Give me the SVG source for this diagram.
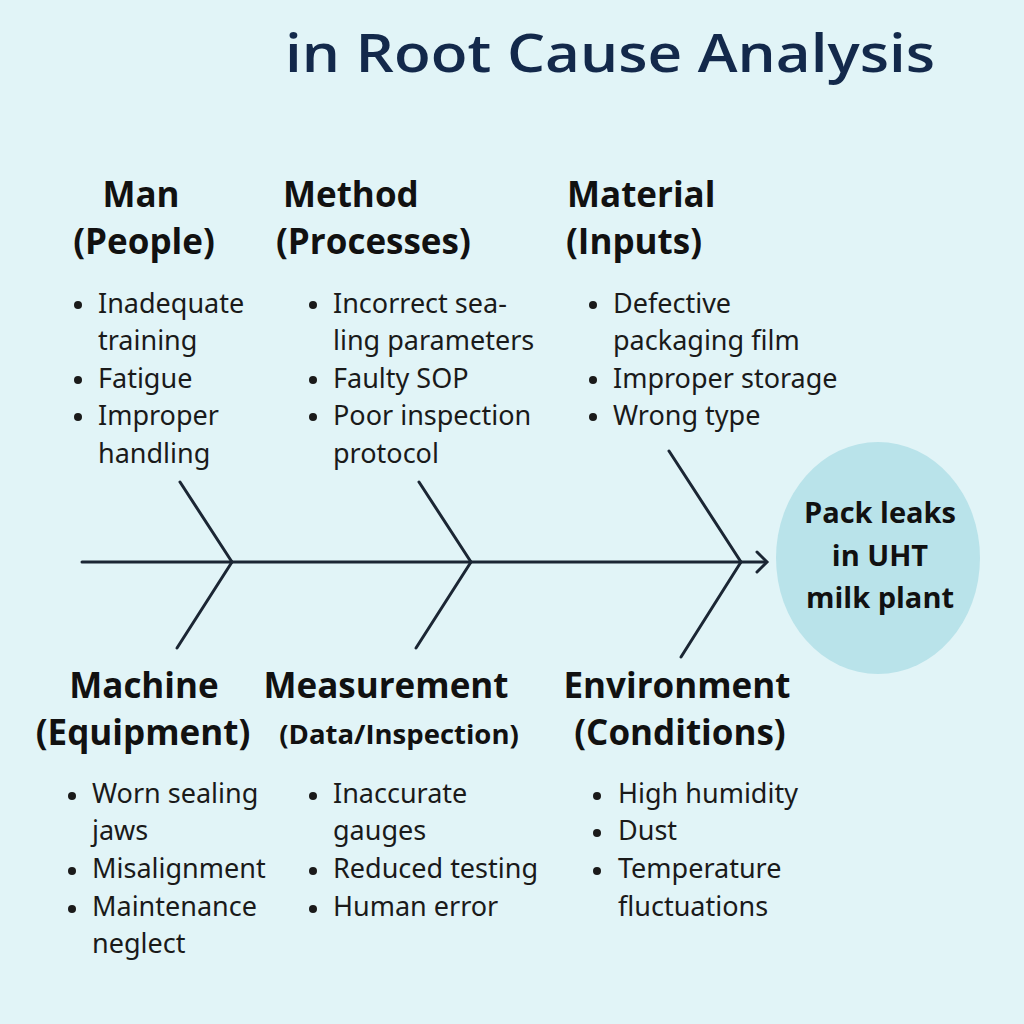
<svg xmlns="http://www.w3.org/2000/svg" width="1024" height="1024" viewBox="0 0 1024 1024">
<style>
.title{font-family:"Open Sans","Liberation Sans",sans-serif;font-weight:600;font-size:52px;fill:#13294b}
.head{font-family:"Open Sans","Liberation Sans",sans-serif;font-weight:700;font-size:35px;fill:#111}
.item{font-family:"Noto Sans","Liberation Sans",sans-serif;font-size:27px;fill:#1a1a1a}
.dot{fill:#1a1a1a}
.bone{stroke:#1b2634;stroke-width:3;fill:none;stroke-linecap:round}
.effect{font-family:"Open Sans","Liberation Sans",sans-serif;font-weight:700;font-size:29px;fill:#111;text-anchor:middle}
</style>
<rect width="1024" height="1024" fill="#e1f4f7"/>
<text class="title" x="285" y="72" textLength="650" lengthAdjust="spacingAndGlyphs">in Root Cause Analysis</text>

<g id="connectors">
<line class="bone" x1="82" y1="562" x2="766" y2="562"/>
<polyline class="bone" points="757,552 767,562 757,572"/>
<line class="bone" x1="180" y1="482" x2="232" y2="562"/>
<line class="bone" x1="232" y1="562" x2="177" y2="648"/>
<line class="bone" x1="419" y1="482" x2="471" y2="562"/>
<line class="bone" x1="471" y1="562" x2="416" y2="648"/>
<line class="bone" x1="669" y1="451" x2="741" y2="562"/>
<line class="bone" x1="741" y1="562" x2="681" y2="657"/>
</g>

<g id="effect">
<ellipse cx="878" cy="558" rx="102" ry="116" fill="#b9e3ea"/>
<text class="effect" x="880" y="523">Pack leaks</text>
<text class="effect" x="880" y="566">in UHT</text>
<text class="effect" x="880" y="608">milk plant</text>
</g>

<g id="man">
<text class="head" x="141" y="207" text-anchor="middle">Man</text>
<text class="head" x="144" y="254" text-anchor="middle">(People)</text>
<circle class="dot" cx="78" cy="305" r="4"/>
<text class="item" x="98" y="313">Inadequate</text>
<text class="item" x="98" y="350">training</text>
<circle class="dot" cx="78" cy="380" r="4"/>
<text class="item" x="98" y="388">Fatigue</text>
<circle class="dot" cx="78" cy="417" r="4"/>
<text class="item" x="98" y="425">Improper</text>
<text class="item" x="98" y="463">handling</text>
</g>

<g id="method">
<text class="head" x="283" y="207">Method</text>
<text class="head" x="276" y="254">(Processes)</text>
<circle class="dot" cx="313" cy="305" r="4"/>
<text class="item" x="333" y="313">Incorrect sea-</text>
<text class="item" x="333" y="350">ling parameters</text>
<circle class="dot" cx="313" cy="380" r="4"/>
<text class="item" x="333" y="388">Faulty SOP</text>
<circle class="dot" cx="313" cy="417" r="4"/>
<text class="item" x="333" y="425">Poor inspection</text>
<text class="item" x="333" y="463">protocol</text>
</g>

<g id="material">
<text class="head" x="567" y="207">Material</text>
<text class="head" x="566" y="254">(Inputs)</text>
<circle class="dot" cx="593" cy="305" r="4"/>
<text class="item" x="613" y="313">Defective</text>
<text class="item" x="613" y="350">packaging film</text>
<circle class="dot" cx="593" cy="380" r="4"/>
<text class="item" x="613" y="388">Improper storage</text>
<circle class="dot" cx="593" cy="417" r="4"/>
<text class="item" x="613" y="425">Wrong type</text>
</g>

<g id="machine">
<text class="head" x="144" y="698" text-anchor="middle">Machine</text>
<text class="head" x="143" y="745" text-anchor="middle">(Equipment)</text>
<circle class="dot" cx="72" cy="796" r="4"/>
<text class="item" x="92" y="803">Worn sealing</text>
<text class="item" x="92" y="840">jaws</text>
<circle class="dot" cx="72" cy="871" r="4"/>
<text class="item" x="92" y="878">Misalignment</text>
<circle class="dot" cx="72" cy="909" r="4"/>
<text class="item" x="92" y="916">Maintenance</text>
<text class="item" x="92" y="953">neglect</text>
</g>

<g id="measurement">
<text class="head" x="386" y="698" text-anchor="middle">Measurement</text>
<text class="head" x="399" y="744" text-anchor="middle" style="font-size:27.5px">(Data/Inspection)</text>
<circle class="dot" cx="313" cy="796" r="4"/>
<text class="item" x="333" y="803">Inaccurate</text>
<text class="item" x="333" y="840">gauges</text>
<circle class="dot" cx="313" cy="871" r="4"/>
<text class="item" x="333" y="878">Reduced testing</text>
<circle class="dot" cx="313" cy="909" r="4"/>
<text class="item" x="333" y="916">Human error</text>
</g>

<g id="environment">
<text class="head" x="677" y="698" text-anchor="middle">Environment</text>
<text class="head" x="680" y="745" text-anchor="middle">(Conditions)</text>
<circle class="dot" cx="597" cy="796" r="4"/>
<text class="item" x="618" y="803">High humidity</text>
<circle class="dot" cx="597" cy="833" r="4"/>
<text class="item" x="618" y="840">Dust</text>
<circle class="dot" cx="597" cy="871" r="4"/>
<text class="item" x="618" y="878">Temperature</text>
<text class="item" x="618" y="916">fluctuations</text>
</g>
</svg>
